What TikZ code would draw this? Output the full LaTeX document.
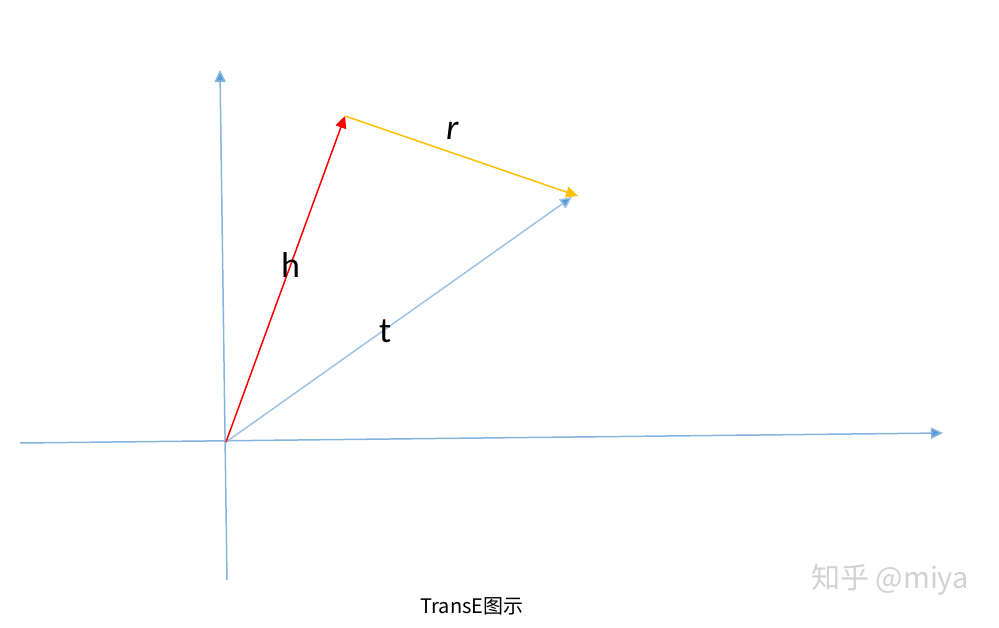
\documentclass[tikz,border=0pt]{standalone}
\usepackage{fontspec}
\setmainfont{Carlito}
\newfontfamily\cjk{Noto Sans CJK SC}
\usetikzlibrary{arrows.meta,positioning,calc}
\definecolor{axisblue}{RGB}{91,155,213}
\definecolor{tblue}{RGB}{157,195,230}
\definecolor{rgold}{RGB}{255,192,0}
\tikzset{
  axis/.style={draw=axisblue!75,line width=1.5pt,-{Triangle[length=12pt,width=11pt,fill=axisblue]}},
  vec/.style={line width=1.5pt,-{Triangle[length=12pt,width=11pt]}},
  vlabel/.style={font=\fontsize{36}{36}\selectfont,inner sep=0pt}
}
\newcommand{\mvec}[5]{
  \draw [vec,#3] (#1) -- node[vlabel,#5] {#4} (#2);
}

\begin{document}
\begin{tikzpicture}[x=1pt,y=-1pt]
  \useasboundingbox (0,0) rectangle (999,627);
  \coordinate (o) at (226,442);
  \coordinate (xs) at (20,443);
  \coordinate (xe) at (943,433);
  \coordinate (ys) at (227,580);
  \coordinate (ye) at (220,70);
  \coordinate (hend) at (345,116);
  \coordinate (tend) at (572,197);
  \coordinate (rend) at (578,196);

  \draw [axis] (xs) -- (xe);
  \draw [axis] (ys) -- (ye);

  \mvec{o}{tend}{draw=tblue,-{Triangle[length=12pt,width=11pt,fill=axisblue]}}{t}{pos=0.46,yshift=-2pt}
  \mvec{o}{hend}{draw=red,fill=red}{h}{pos=0.543}
  \mvec{hend}{rend}{draw=rgold,fill=rgold}{\itshape r}{pos=0.46,yshift=22pt}

  \node [font=\cjk\fontsize{20}{20}\selectfont] (cap) at (472,606) {TransE图示};
  \node [font=\cjk\fontsize{29}{29}\selectfont,text=gray!35] (wm) at (890,580) {知乎 @miya};
\end{tikzpicture}
\end{document}
